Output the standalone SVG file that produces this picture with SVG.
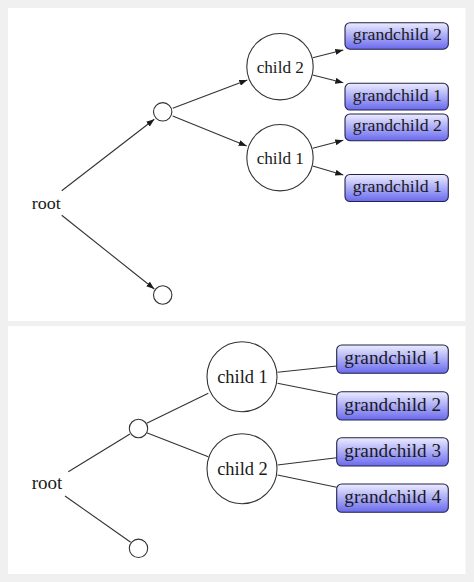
<svg xmlns="http://www.w3.org/2000/svg" width="474" height="582" viewBox="0 0 474 582" font-family="Liberation Serif, DejaVu Serif, serif">
<defs>
<linearGradient id="gcg" x1="0" y1="0" x2="0" y2="1">
<stop offset="0" stop-color="#ececff"/>
<stop offset="1" stop-color="#6a6aee"/>
</linearGradient>
<marker id="arr" viewBox="0 0 8 6" refX="8" refY="3" markerWidth="8" markerHeight="6" markerUnits="userSpaceOnUse" orient="auto">
<path d="M0,0 L8,3 L0,6 Z" fill="#1a1a1a"/>
</marker>
<style>
text{fill:#1a1a1a;text-anchor:middle}
.s{font-size:17px}
.b{font-size:18.5px}
.c{fill:#fff;stroke:#333;stroke-width:1.1}
.g{fill:url(#gcg);stroke:#22224a;stroke-width:1.1}
.e{stroke:#333;stroke-width:1.1;fill:none}
.ea{stroke:#333;stroke-width:1.1;fill:none;marker-end:url(#arr)}
</style>
</defs>
<rect x="0" y="0" width="474" height="582" fill="#f0f0f0"/>
<rect x="8" y="8" width="457.5" height="313" fill="#fff"/>
<rect x="8" y="326" width="457.5" height="248" fill="#fff"/>

<g id="connectors-top">
<line class="ea" x1="61.7" y1="190.7" x2="154.3" y2="119.3"/>
<line class="ea" x1="61.7" y1="215.3" x2="154.3" y2="289"/>
<line class="ea" x1="172.7" y1="108.3" x2="247.3" y2="80"/>
<line class="ea" x1="172.7" y1="116" x2="246.7" y2="146"/>
<line class="ea" x1="312.7" y1="57.7" x2="343.3" y2="50"/>
<line class="ea" x1="312.7" y1="75" x2="343.3" y2="82.7"/>
<line class="ea" x1="312.7" y1="148.3" x2="343.3" y2="140.3"/>
<line class="ea" x1="312.7" y1="166" x2="343.3" y2="175"/>
</g>

<g id="top-root"><text class="s" x="46.2" y="209" textLength="29" lengthAdjust="spacingAndGlyphs">root</text></g>
<g id="top-empty1"><circle class="c" cx="162.7" cy="111.8" r="9.2"/></g>
<g id="top-empty2"><circle class="c" cx="162.7" cy="295" r="9.2"/></g>
<g id="top-child2"><circle class="c" cx="280" cy="66.7" r="33.2"/><text class="s" x="280.3" y="73.3" textLength="47.3" lengthAdjust="spacingAndGlyphs">child 2</text></g>
<g id="top-child1"><circle class="c" cx="280" cy="157.7" r="33.2"/><text class="s" x="280.3" y="164" textLength="47.3" lengthAdjust="spacingAndGlyphs">child 1</text></g>
<g id="top-gc2a"><rect class="g" x="345" y="22.7" width="103.3" height="26.5" rx="5"/><text class="s" x="397.3" y="40" textLength="89" lengthAdjust="spacingAndGlyphs">grandchild 2</text></g>
<g id="top-gc1a"><rect class="g" x="345" y="83.3" width="103.3" height="26.7" rx="5"/><text class="s" x="397.3" y="100.5" textLength="89" lengthAdjust="spacingAndGlyphs">grandchild 1</text></g>
<g id="top-gc2b"><rect class="g" x="345" y="114" width="103.3" height="26.7" rx="5"/><text class="s" x="397.3" y="131" textLength="89" lengthAdjust="spacingAndGlyphs">grandchild 2</text></g>
<g id="top-gc1b"><rect class="g" x="345" y="174.5" width="103.3" height="27" rx="5"/><text class="s" x="397.3" y="192" textLength="89" lengthAdjust="spacingAndGlyphs">grandchild 1</text></g>

<g id="connectors-bottom">
<line class="e" x1="68.3" y1="471.7" x2="130" y2="434"/>
<line class="e" x1="65" y1="496" x2="130.7" y2="542.3"/>
<line class="e" x1="146.7" y1="423.3" x2="208.3" y2="393.3"/>
<line class="e" x1="146.7" y1="432.7" x2="208.3" y2="456.7"/>
<line class="e" x1="277.5" y1="372.3" x2="336.7" y2="366"/>
<line class="e" x1="277.5" y1="383.3" x2="336.7" y2="395"/>
<line class="e" x1="277.5" y1="465" x2="336.7" y2="457.7"/>
<line class="e" x1="277.5" y1="475" x2="336.7" y2="487.3"/>
</g>

<g id="bot-root"><text class="b" x="47" y="489" textLength="30.7" lengthAdjust="spacingAndGlyphs">root</text></g>
<g id="bot-empty1"><circle class="c" cx="138.5" cy="428.5" r="9.2"/></g>
<g id="bot-empty2"><circle class="c" cx="138.5" cy="548.3" r="9.2"/></g>
<g id="bot-child1"><circle class="c" cx="242" cy="376.7" r="35"/><text class="b" x="242.5" y="383.3" textLength="50.7" lengthAdjust="spacingAndGlyphs">child 1</text></g>
<g id="bot-child2"><circle class="c" cx="242" cy="468.7" r="35"/><text class="b" x="242.5" y="475" textLength="50.7" lengthAdjust="spacingAndGlyphs">child 2</text></g>
<g id="bot-gc1"><rect class="g" x="336.7" y="345" width="111.6" height="28.3" rx="5"/><text class="b" x="392.7" y="364" textLength="96.7" lengthAdjust="spacingAndGlyphs">grandchild 1</text></g>
<g id="bot-gc2"><rect class="g" x="336.7" y="391.7" width="111.6" height="28.3" rx="5"/><text class="b" x="392.7" y="410.7" textLength="96.7" lengthAdjust="spacingAndGlyphs">grandchild 2</text></g>
<g id="bot-gc3"><rect class="g" x="336.7" y="437.7" width="111.6" height="28.3" rx="5"/><text class="b" x="392.7" y="456.7" textLength="96.7" lengthAdjust="spacingAndGlyphs">grandchild 3</text></g>
<g id="bot-gc4"><rect class="g" x="336.7" y="484" width="111.6" height="28.3" rx="5"/><text class="b" x="392.7" y="503.3" textLength="96.7" lengthAdjust="spacingAndGlyphs">grandchild 4</text></g>
</svg>
